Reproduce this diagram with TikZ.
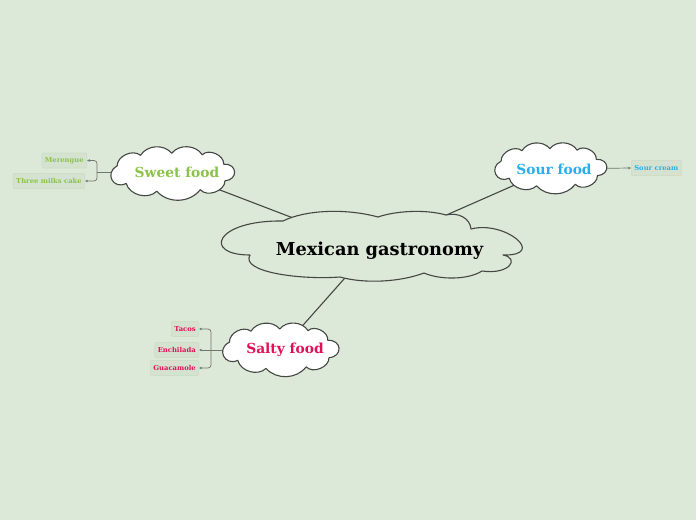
\documentclass[tikz,border=0pt]{standalone}
\usepackage{fontspec}
\setmainfont{DejaVu Serif}
\usetikzlibrary{arrows.meta,backgrounds}
\definecolor{bg}{RGB}{220,232,216}
\definecolor{subfill}{RGB}{212,226,207}
\definecolor{subline}{RGB}{205,221,200}
\definecolor{edge}{RGB}{68,72,68}
\definecolor{sweetc}{RGB}{139,195,74}
\definecolor{sourc}{RGB}{41,176,236}
\definecolor{saltyc}{RGB}{226,16,88}
\definecolor{branchc}{RGB}{110,118,110}
\tikzset{
  cloudline/.style={draw=edge, line width=1.1pt, line join=round},
  topictext/.style={inner sep=0pt, font=\fontsize{13.8}{16}\selectfont\bfseries},
  subbox/.style={draw=subline, fill=subfill, rounded corners=1pt, line width=0.6pt,
    inner xsep=3pt, inner ysep=0pt, minimum height=15pt,
    font=\fontsize{6.8}{8}\selectfont\bfseries},
  link/.style={draw=edge, line width=1.1pt},
  branchline/.style={draw=branchc, line width=0.7pt, rounded corners=3pt},
  branch/.style={branchline, -{Stealth[length=3pt,width=2.6pt]}},
}
\newcommand\smallcloud[4]{%
  \begin{scope}[shift={(#1,#2)}, x=#3pt, y=-#4pt]
    \draw[cloudline, fill=white]
      (-0.86,-0.25) to[bend left=65] (-0.5,-0.66)
      to[bend left=55] (-0.02,-0.74)
      to[bend left=55] (0.45,-0.68)
      to[bend left=70] (0.78,-0.32)
      to[bend left=90, looseness=2.1] (0.8,0.32)
      to[bend left=70] (0.42,0.66)
      to[bend left=50] (-0.25,0.72)
      to[bend left=60] (-0.72,0.42)
      to[bend left=90, looseness=1.9] (-0.86,-0.25) -- cycle;
  \end{scope}}
\begin{document}
\begin{tikzpicture}[x=1pt,y=-1pt]
\useasboundingbox (0,0) rectangle (696,520);

% main cloud outline
\draw[cloudline, fill=bg]
  (283,221) .. controls (305,210) and (345,208) .. (378,217)
  .. controls (395,211) and (425,209) .. (446,215)
  .. controls (458,212) and (470,218) .. (471,229)
  .. controls (505,220) and (548,256) .. (503,255)
  .. controls (520,258) and (510,275) .. (482,271)
  .. controls (468,280) and (440,280) .. (424,273)
  .. controls (400,282) and (365,284) .. (340,277)
  .. controls (300,280) and (240,272) .. (250,255)
  .. controls (202,255) and (215,220) .. (283,221) -- cycle;

\smallcloud{173}{172.5}{65}{26}
\smallcloud{551}{167.5}{58}{25.5}
\smallcloud{281}{349}{60}{27}

\node[inner sep=0pt, text height=17pt, text depth=3pt, font=\fontsize{17.8}{20}\selectfont\bfseries] (main) at (371.5,248) {\hspace*{16pt}Mexican gastronomy};
\node[topictext, text=sweetc] (sweet) at (173,172) {\hspace*{8pt}Sweet food};
\node[topictext, text=sourc] (sour) at (551,169) {\hspace*{6pt}Sour food};
\node[topictext, text=saltyc] (salty) at (281,350) {\hspace*{8pt}Salty food};

% subtopics
\node[subbox, text=sweetc, anchor=east] (mer) at (87,160.5) {Merengue};
\node[subbox, text=sweetc, anchor=east] (tmc) at (85,181) {Three milks cake};
\node[subbox, text=sourc, anchor=west] (cream) at (631,168) {Sour cream};
\node[subbox, text=saltyc, anchor=east] (tacos) at (199,329) {Tacos};
\node[subbox, text=saltyc, anchor=east] (ench) at (199,350) {Enchilada};
\node[subbox, text=saltyc, anchor=east] (guac) at (199,368) {Guacamole};

\coordinate (sb) at (97,172);
\coordinate (ssb) at (211,350);

\begin{pgfonlayer}{background}
  \fill[bg] (0,0) rectangle (696,520);
  \draw[link] (main.center) -- (sweet.center);
  \draw[link] (main.center) -- (sour.center);
  \draw[link] (main.center) -- (salty.center);
  \draw[branchline] (sweet.center) -- (sb);
  \draw[branch] (sb) -- (97,160.5) -- (mer.east);
  \draw[branch] (sb) -- (97,181) -- (tmc.east);
  \draw[branch] (sour.center) -- (cream.west);
  \draw[branch] (salty.center) -- (ench.east);
  \draw[branch] (ssb) -- (211,329) -- (tacos.east);
  \draw[branch] (ssb) -- (211,368) -- (guac.east);
\end{pgfonlayer}
\end{tikzpicture}
\end{document}
